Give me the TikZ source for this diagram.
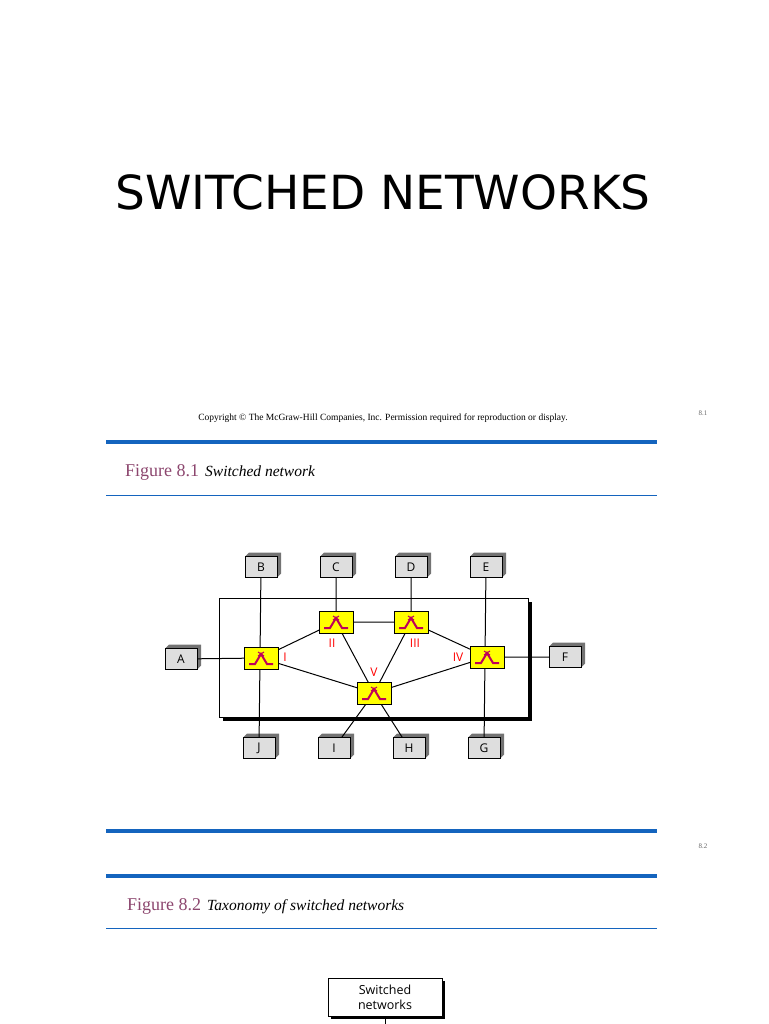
\documentclass[tikz,border=0pt]{standalone}
\usepackage{fontspec}
\setmainfont{Liberation Serif}
\newfontfamily\titlefont{DejaVu Sans}
\newfontfamily\labfont{Open Sans}
\usetikzlibrary{positioning}
\usetikzlibrary{calc}
\definecolor{rulebl}{RGB}{20,100,190}
\definecolor{figmauve}{RGB}{140,70,110}
\definecolor{boxgray}{RGB}{222,222,222}
\definecolor{swyel}{RGB}{255,255,0}
\definecolor{swmag}{RGB}{190,0,90}
\tikzstyle{station}=[draw=black,fill=boxgray,minimum width=32pt,minimum height=21pt,inner sep=0pt,font=\labfont\fontsize{12}{12}\selectfont]
\tikzstyle{switch}=[draw=black,fill=swyel,minimum width=34pt,minimum height=22pt,inner sep=0pt]
\tikzstyle{link}=[line width=1pt,color=black]
\tikzstyle{swlabel}=[text=red,font=\labfont\fontsize{12}{12}\selectfont,inner sep=0pt]
\tikzstyle{thickrule}=[line width=4pt,color=rulebl]
\tikzstyle{thinrule}=[line width=1pt,color=rulebl]
\newcommand{\stationbox}[3]{% name, position, text
  \fill[black!55] ($(#2)+(-16pt,10.5pt)$) -- ++(4pt,4pt) -- ++(32pt,0) -- ++(0,-21pt) -- ++(-4pt,-4pt) -- cycle;
  \node[station] (#1) at (#2) {#3};}
\newcommand{\switchbox}[2]{% name, position
  \node[switch] (#1) at (#2) {};
  \draw[swmag,line width=2pt] ($(#1)+(-12pt,-6pt)$) -- ++(6pt,0) -- ++(6pt,10pt) -- ++(6pt,-10pt) -- ++(6pt,0);
  \draw[swmag,line width=1pt] ($(#1)+(-3pt,6pt)$) -- ++(6pt,-4pt) ($(#1)+(3pt,6pt)$) -- ++(-6pt,-4pt);}
\begin{document}
\begin{tikzpicture}[x=1pt,y=-1pt]
	\useasboundingbox (0,0) rectangle (768,1024);

	% Title slide
	\node[font=\titlefont\fontsize{47}{47}\selectfont] (title) at (383,192) {SWITCHED NETWORKS};
	\node[font=\fontsize{9.5}{9.5}\selectfont] (copyr) at (383,418) {Copyright \textcopyright{} The McGraw-Hill Companies, Inc. Permission required for reproduction or display.};
	\node[font=\fontsize{7}{7}\selectfont,text=black!60] (pga) at (703,413) {8.1};

	% Figure 8.1
	\draw[thickrule] (106,442) -- (657,442);
	\node[anchor=west,inner sep=0pt] (figa) at (125,472) {\textcolor{figmauve}{\fontsize{18}{18}\selectfont Figure 8.1}\hspace{6pt}{\fontsize{15.5}{15.5}\selectfont\itshape Switched network}};
	\draw[thinrule] (106,495) -- (657,495);

	\fill[black] (223,602) rectangle (532,721);
	\draw[fill=white,line width=0.6pt] (219,598) rectangle (528,717);

	\coordinate (pA) at (181,659);
	\coordinate (pB) at (261,567);
	\coordinate (pC) at (336,567);
	\coordinate (pD) at (411,567);
	\coordinate (pE) at (486,567);
	\coordinate (pF) at (565,657);
	\coordinate (pG) at (484,748);
	\coordinate (pH) at (409,748);
	\coordinate (pI) at (334,748);
	\coordinate (pJ) at (259,748);
	\stationbox{A}{pA}{A}
	\stationbox{B}{pB}{B}
	\stationbox{C}{pC}{C}
	\stationbox{D}{pD}{D}
	\stationbox{E}{pE}{E}
	\stationbox{F}{pF}{F}
	\stationbox{G}{pG}{G}
	\stationbox{H}{pH}{H}
	\stationbox{I}{pI}{I}
	\stationbox{J}{pJ}{J}

	\draw[link] (A) -- (261,658) (B) -- (J) (C) -- (336,622) (D) -- (411,622) (E) -- (G) (F) -- (487,657);
	\draw[link] (261,658) -- (336,622) -- (411,622) -- (487,657);
	\draw[link] (261,658) -- (374,693) -- (487,657);
	\draw[link] (336,622) -- (374,693) -- (411,622);
	\draw[link] (374,693) -- (I) (374,693) -- (H);

	\switchbox{s1}{261,658}
	\switchbox{s2}{336,622}
	\switchbox{s3}{411,622}
	\switchbox{s4}{487,657}
	\switchbox{s5}{374,693}
	\node[swlabel] (l1) at (285,657) {I};
	\node[swlabel] (l2) at (332,643) {II};
	\node[swlabel] (l3) at (415,643) {III};
	\node[swlabel] (l4) at (458,657) {IV};
	\node[swlabel] (l5) at (374,672) {V};

	% Figure 8.2
	\draw[thickrule] (106,831) -- (657,831);
	\node[font=\fontsize{7}{7}\selectfont,text=black!60] (pgb) at (703,846) {8.2};
	\draw[thickrule] (106,876) -- (657,876);
	\node[anchor=west,inner sep=0pt] (figb) at (127,906) {\textcolor{figmauve}{\fontsize{18}{18}\selectfont Figure 8.2}\hspace{6pt}{\fontsize{15.5}{15.5}\selectfont\itshape Taxonomy of switched networks}};
	\draw[thinrule] (106,928) -- (657,928);

	\fill[black] (331,981) rectangle (445,1019);
	\node[draw=black,fill=white,line width=0.6pt,minimum width=114pt,minimum height=38pt,inner sep=0pt,align=center,font=\labfont\fontsize{12.5}{15}\selectfont] (swnet) at (385,997) {Switched\\networks};
	\coordinate (down) at (385,1024);
	\draw[link] (swnet) -- (down);
\end{tikzpicture}
\end{document}
